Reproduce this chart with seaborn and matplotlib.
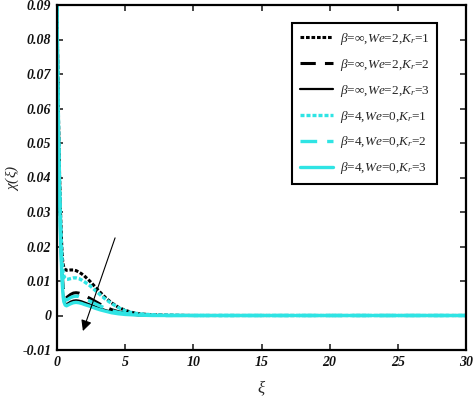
import matplotlib
matplotlib.use("Agg")
import matplotlib.pyplot as plt
import seaborn as sns
import pandas as pd

xi = [0, 0.05, 0.1, 0.15, 0.2, 0.25, 0.3, 0.35, 0.4, 0.45, 0.5, 0.6, 0.7, 0.8, 1.0,
      1.2, 1.4, 1.6, 1.8, 2.0, 2.4, 2.8, 3.2, 3.6, 4.0, 4.5, 5.0, 5.5, 6.0, 7.0,
      8.0, 10, 15, 20, 30]

chi_binf_kr1 = [0.09, 0.074, 0.060, 0.048, 0.039, 0.031, 0.025, 0.020, 0.0165, 0.0148,
                0.0140, 0.0134, 0.0131, 0.0131, 0.0132, 0.0132, 0.0130, 0.0126, 0.0121, 0.0115,
                0.0100, 0.0083, 0.0066, 0.0050, 0.0037, 0.0024, 0.0015, 0.0009, 0.0005, 0.0002,
                0.0001, 0, 0, 0, 0]
chi_binf_kr2 = [0.09, 0.072, 0.057, 0.045, 0.035, 0.027, 0.020, 0.015, 0.011, 0.0082,
                0.0065, 0.0052, 0.0052, 0.0055, 0.0061, 0.0065, 0.0066, 0.0065, 0.0062, 0.0058,
                0.0050, 0.0041, 0.0032, 0.0024, 0.0017, 0.0011, 0.0007, 0.0004, 0.0002, 0.0001,
                0, 0, 0, 0, 0]
chi_binf_kr3 = [0.09, 0.071, 0.055, 0.043, 0.033, 0.025, 0.018, 0.013, 0.0090, 0.0062,
                0.0046, 0.0035, 0.0033, 0.0035, 0.0040, 0.0043, 0.0044, 0.0043, 0.0041, 0.0038,
                0.0032, 0.0026, 0.0020, 0.0015, 0.0011, 0.0007, 0.0004, 0.0002, 0.0001, 0,
                0, 0, 0, 0, 0]
chi_b4_kr1 = [0.09, 0.073, 0.059, 0.047, 0.037, 0.029, 0.023, 0.018, 0.0145, 0.0125,
              0.0115, 0.0108, 0.0105, 0.0105, 0.0107, 0.0109, 0.0109, 0.0107, 0.0103, 0.0098,
              0.0087, 0.0073, 0.0059, 0.0046, 0.0035, 0.0023, 0.0014, 0.0008, 0.0005, 0.0002,
              0.0001, 0, 0, 0, 0]
chi_b4_kr2 = [0.09, 0.071, 0.056, 0.044, 0.034, 0.026, 0.019, 0.014, 0.010, 0.0072,
              0.0055, 0.0045, 0.0045, 0.0047, 0.0052, 0.0055, 0.0056, 0.0055, 0.0052, 0.0049,
              0.0042, 0.0034, 0.0027, 0.0020, 0.0014, 0.0009, 0.0006, 0.0003, 0.0002, 0.0001,
              0, 0, 0, 0, 0]
chi_b4_kr3 = [0.09, 0.070, 0.054, 0.042, 0.032, 0.024, 0.017, 0.012, 0.0082, 0.0055,
              0.0040, 0.0030, 0.0028, 0.0030, 0.0034, 0.0037, 0.0038, 0.0037, 0.0035, 0.0032,
              0.0027, 0.0021, 0.0016, 0.0012, 0.0008, 0.0005, 0.0003, 0.0002, 0.0001, 0,
              0, 0, 0, 0, 0]

labels = [r"$\beta$=$\infty$,$We$=2,$K_r$=1",
          r"$\beta$=$\infty$,$We$=2,$K_r$=2",
          r"$\beta$=$\infty$,$We$=2,$K_r$=3",
          r"$\beta$=4,$We$=0,$K_r$=1",
          r"$\beta$=4,$We$=0,$K_r$=2",
          r"$\beta$=4,$We$=0,$K_r$=3"]

xticks = [0, 5, 10, 15, 20, 25, 30]
yticks = [-0.01, 0, 0.01, 0.02, 0.03, 0.04, 0.05, 0.06, 0.07, 0.08, 0.09]
ytick_labels = ["-0.01", "0", "0.01", "0.02", "0.03", "0.04", "0.05", "0.06", "0.07", "0.08", "0.09"]

sns.set_style("white")
plt.rcParams["font.family"] = ["Liberation Serif", "DejaVu Serif"]
plt.rcParams["mathtext.fontset"] = "custom"
plt.rcParams["mathtext.rm"] = "Liberation Serif:italic"
plt.rcParams["mathtext.it"] = "Liberation Serif:italic"
plt.rcParams["mathtext.bf"] = "Liberation Serif:bold:italic"

fig = plt.figure(figsize=(4.74, 3.97), dpi=100)
ax = fig.add_axes([57/474, 47/397, 409/474, 345/397])

series = [chi_binf_kr1, chi_binf_kr2, chi_binf_kr3, chi_b4_kr1, chi_b4_kr2, chi_b4_kr3]
colors = ["black", "black", "black", "#2fe4e4", "#2fe4e4", "#2fe4e4"]
styles = [(0, (1.2, 0.6)), (0, (5, 3)), "-", (0, (1.2, 0.6)), (0, (5, 3)), "-"]
widths = [2.2, 2.2, 1.6, 2.4, 2.4, 2.4]

for vals, c, ls, lw, lab in zip(series, colors, styles, widths, labels):
    df = pd.DataFrame({"xi": xi, "chi": vals})
    sns.lineplot(data=df, x="xi", y="chi", color=c, linestyle=ls, lw=lw,
                 label=lab, ax=ax, estimator=None, sort=False)

ax.annotate("", xy=(1.9, -0.0045), xytext=(4.26, 0.0225),
            arrowprops=dict(arrowstyle="-|>", color="black", lw=0.8,
                            mutation_scale=16, shrinkA=0, shrinkB=0))

ax.set_xlim(0, 30)
ax.set_ylim(-0.01, 0.09)
ax.set_xticks(xticks)
ax.set_xticklabels([str(t) for t in xticks])
ax.set_yticks(yticks)
ax.set_yticklabels(ytick_labels)
for lab in ax.get_xticklabels() + ax.get_yticklabels():
    lab.set_fontstyle("italic")
    lab.set_fontweight("bold")
    lab.set_fontsize(10)
    lab.set_color("#111111")
ax.tick_params(direction="in", length=4, width=1.2, top=True, right=True,
               bottom=True, left=True, pad=4)
for s in ax.spines.values():
    s.set_linewidth(1.6)
    s.set_color("black")

ax.set_xlabel(r"$\xi$", fontsize=12, labelpad=7)
ax.set_ylabel(r"$\chi(\xi)$", fontsize=11, labelpad=1)

leg = ax.legend(loc="upper left", bbox_to_anchor=(0.575, 0.948), borderaxespad=0,
                fontsize=9.5, handlelength=2.5, labelspacing=0.75, frameon=True,
                fancybox=False, framealpha=1, edgecolor="black", borderpad=0.6,
                handletextpad=0.5)
leg.get_frame().set_linewidth(1.5)

fig.savefig("out.png", dpi=100)
